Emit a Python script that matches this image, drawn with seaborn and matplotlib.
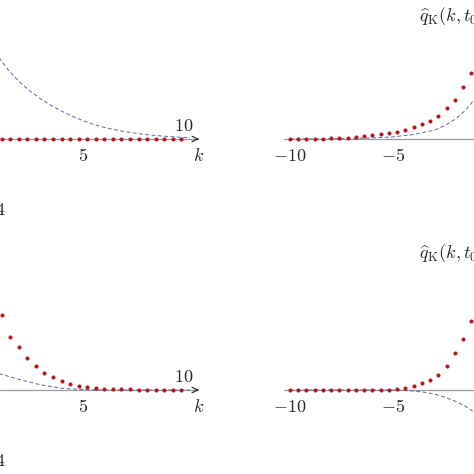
import numpy as np
import matplotlib
matplotlib.use("Agg")
import matplotlib.pyplot as plt
import seaborn as sns

sns.set_style("white")
plt.rcParams['mathtext.fontset'] = 'cm'
plt.rcParams['font.family'] = ['DejaVu Serif']

# dotted (red) samples
k_dots_left = np.arange(1.2, 9.61, 0.4)
k_dots_right = np.arange(-10.0, -1.19, 0.4)
red_top_left = [0.0] * 22
red_top_right = [0.0, 0.0, 0.01, 0.01, 0.02, 0.03, 0.05, 0.07,
                 0.1, 0.17, 0.22, 0.27, 0.33, 0.4, 0.5, 0.66, 0.82, 1.03,
                 1.3, 1.72, 2.2, 2.95, 3.7]
red_bot_left = [4.2, 2.97, 2.45, 1.8, 1.35, 0.98, 0.71, 0.5, 0.34, 0.24, 0.16,
                0.11, 0.08, 0.06, 0.04, 0.03, 0.02, 0.01, 0.0, 0.0, 0.0, 0.0]
red_bot_right = [0.0] * 13 + [0.05, 0.13, 0.24, 0.38, 0.56, 0.82, 1.37, 2.1, 2.9, 3.9]

# dashed (blue) curves
k_dash_tl = [1.0, 1.5, 2, 2.5, 3, 3.5, 4, 4.5, 5, 5.5, 6, 7, 8, 9, 10]
dash_tl = [4.7, 3.9, 3.25, 2.72, 2.28, 1.9, 1.57, 1.28, 1.03, 0.82, 0.65, 0.4, 0.24, 0.14, 0.07]
k_dash_tr = [-10, -8, -7, -6, -5, -4, -3, -2.5, -2, -1.5, -1]
dash_tr = [0, 0.01, 0.03, 0.06, 0.12, 0.25, 0.5, 0.75, 1.1, 1.6, 2.3]
k_dash_bl = [1, 2, 3, 4, 5, 6, 10]
dash_bl = [0.95, 0.6, 0.3, 0.1, 0.03, 0.0, 0.0]
k_dash_br = [-10, -5, -4.5, -4, -3.5, -3, -2.5, -2, -1.5, -1]
dash_br = [0, 0, -0.02, -0.06, -0.12, -0.22, -0.4, -0.62, -0.9, -1.3]

red = '#b5121b'
blue = '#5a68a8'
axis_gray = '#999999'

fig = plt.figure(figsize=(4.74, 4.74), dpi=100)

panels = [
    # rect, xlim, ylim, dots, dashed, side
    ([0, 0.5, 0.5, 0.5], (1.12, 12.2), (-5.52, 7.83), (k_dots_left, red_top_left), (k_dash_tl, dash_tl), 'left'),
    ([0.5, 0.5, 0.5, 0.5], (-12.57, -1.07), (-5.52, 7.83), (k_dots_right, red_top_right), (k_dash_tr, dash_tr), 'right'),
    ([0, 0, 0.5, 0.5], (1.12, 12.2), (-4.73, 8.62), (k_dots_left, red_bot_left), (k_dash_bl, dash_bl), 'left'),
    ([0.5, 0, 0.5, 0.5], (-12.57, -1.07), (-4.73, 8.62), (k_dots_right, red_bot_right), (k_dash_br, dash_br), 'right'),
]

for rect, xl, yl, dots, dash, side in panels:
    ax = fig.add_axes(rect)
    ax.set_xlim(*xl)
    ax.set_ylim(*yl)
    ax.axis('off')
    if side == 'left':
        ax.plot([xl[0], 10.4], [0, 0], color=axis_gray, lw=0.9)
        ax.annotate('', xy=(10.55, 0), xytext=(10.2, 0),
                    arrowprops=dict(arrowstyle='->', color='#333333', lw=0.9))
        ax.text(5, -0.45, r'$5$', ha='center', va='top', fontsize=13)
        ax.text(9.7, 0.25, r'$10$', ha='center', va='bottom', fontsize=13)
        ax.text(10.4, -0.45, r'$k$', ha='center', va='top', fontsize=13)
        ax.text(1.4, -4, r'$-4$', ha='right', va='center', fontsize=13)
    else:
        ax.plot([-10.3, xl[1]], [0, 0], color=axis_gray, lw=0.9)
        ax.text(-10, -0.45, r'$-10$', ha='center', va='top', fontsize=13)
        ax.text(-5, -0.45, r'$-5$', ha='center', va='top', fontsize=13)
        ax.text(-3.75, yl[1] - 0.3, r'$\widehat{q}_{\mathrm{K}}(k,t_0)$', ha='left', va='top', fontsize=13)
    sns.lineplot(x=dash[0], y=dash[1], ax=ax, color=blue, lw=0.7, linestyle=(0, (4, 2.5)))
    sns.scatterplot(x=dots[0], y=dots[1], ax=ax, color=red, s=7, edgecolor=None, zorder=3)

fig.savefig('out.png', dpi=100)
